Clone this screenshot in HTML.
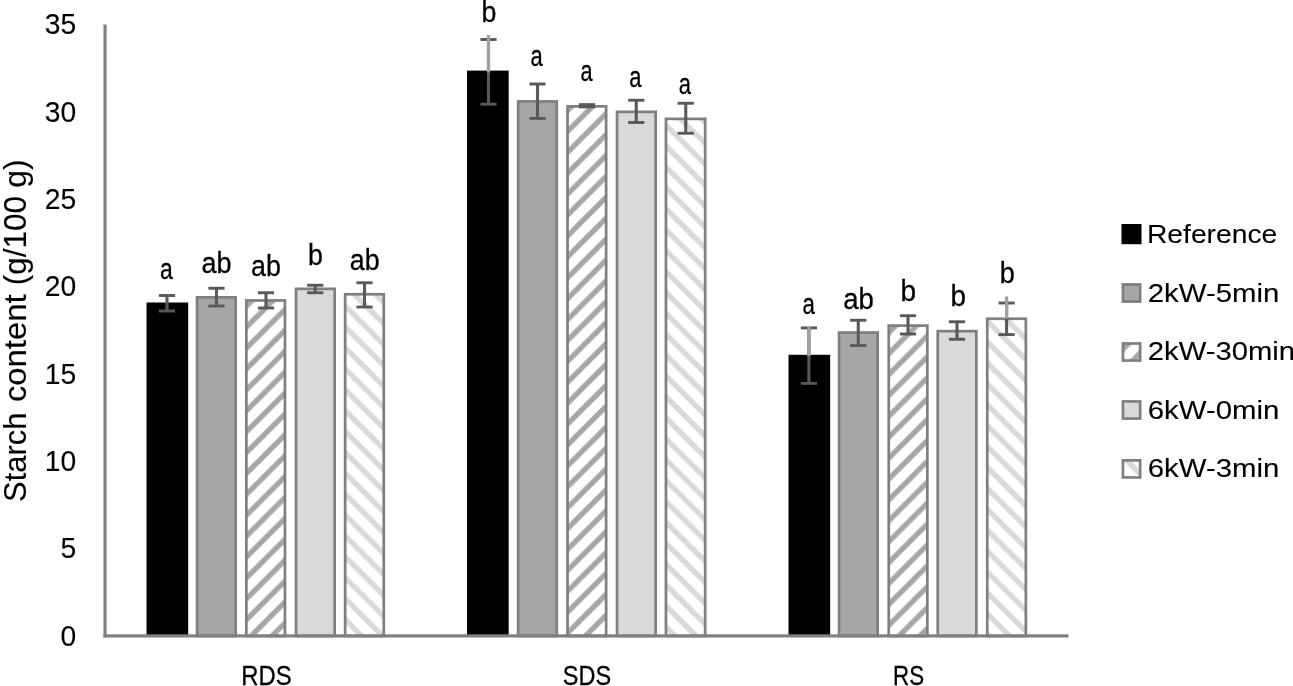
<!DOCTYPE html>
<html><head><meta charset="utf-8"><title>Starch content chart</title>
<style>
html,body{margin:0;padding:0;background:#fff;}
body{width:1293px;height:686px;overflow:hidden;}
svg{display:block;}
svg text{font-family:"Liberation Sans",sans-serif;fill:#000;stroke:#000;stroke-width:0.3px;}
svg text.l,svg text.y,svg text.t{stroke-width:0.1px;}
svg text.c,svg text.s{stroke-width:0.3px;}
</style></head><body>
<svg width="1293" height="686" viewBox="0 0 1293 686">
<defs>
<pattern id="h1" patternUnits="userSpaceOnUse" width="20.9" height="20.9">
<rect width="20.9" height="20.9" fill="#fff"/>
<path d="M-30 -2.50L-2.50 -30M-30 18.40L18.40 -30M-30 39.30L39.30 -30M-30 60.20L60.20 -30M-30 81.10L81.10 -30M-30 102.00L102.00 -30" stroke="#a6a6a6" stroke-width="5.3" fill="none"/>
</pattern>
<pattern id="h2" patternUnits="userSpaceOnUse" width="20.9" height="20.9">
<rect width="20.9" height="20.9" fill="#fff"/>
<path d="M-30 -90.10L60 -0.10M-30 -69.20L60 20.80M-30 -48.30L60 41.70M-30 -27.40L60 62.60M-30 -6.50L60 83.50M-30 14.40L60 104.40" stroke="#d9d9d9" stroke-width="5.3" fill="none"/>
</pattern>
</defs>
<rect width="1293" height="686" fill="#fff"/>
<rect x="146.55" y="302.50" width="41.65" height="333.50" fill="#000"/>
<rect x="197.05" y="297.35" width="38.60" height="338.65" fill="#a6a6a6" stroke="#7f7f7f" stroke-width="2.7"/>
<rect x="246.35" y="300.45" width="38.60" height="335.55" fill="url(#h1)" stroke="#7f7f7f" stroke-width="2.7"/>
<rect x="296.05" y="288.85" width="38.60" height="347.15" fill="#d9d9d9" stroke="#7f7f7f" stroke-width="2.7"/>
<rect x="345.15" y="294.25" width="38.60" height="341.75" fill="url(#h2)" stroke="#7f7f7f" stroke-width="2.7"/>
<rect x="467.00" y="70.60" width="41.65" height="565.40" fill="#000"/>
<rect x="518.15" y="101.45" width="38.60" height="534.55" fill="#a6a6a6" stroke="#7f7f7f" stroke-width="2.7"/>
<rect x="567.55" y="106.35" width="38.60" height="529.65" fill="url(#h1)" stroke="#7f7f7f" stroke-width="2.7"/>
<rect x="617.05" y="111.85" width="38.60" height="524.15" fill="#d9d9d9" stroke="#7f7f7f" stroke-width="2.7"/>
<rect x="665.95" y="118.85" width="39.20" height="517.15" fill="url(#h2)" stroke="#7f7f7f" stroke-width="2.7"/>
<rect x="788.50" y="354.80" width="41.65" height="281.20" fill="#000"/>
<rect x="839.05" y="332.55" width="38.60" height="303.45" fill="#a6a6a6" stroke="#7f7f7f" stroke-width="2.7"/>
<rect x="888.75" y="325.60" width="38.60" height="310.40" fill="url(#h1)" stroke="#7f7f7f" stroke-width="2.7"/>
<rect x="937.75" y="331.15" width="38.60" height="304.85" fill="#d9d9d9" stroke="#7f7f7f" stroke-width="2.7"/>
<rect x="987.25" y="318.75" width="38.60" height="317.25" fill="url(#h2)" stroke="#7f7f7f" stroke-width="2.7"/>
<rect x="103.45" y="24.5" width="3.15" height="613.00" fill="#808080"/>
<rect x="103.45" y="634.3" width="965.05" height="3.2" fill="#808080"/>
<path d="M167.00 295.50V311.00" stroke="#595959" stroke-width="3.1" fill="none"/>
<path d="M158.90 295.50H175.10" stroke="#595959" stroke-width="2.9" fill="none"/>
<path d="M158.90 311.00H175.10" stroke="#595959" stroke-width="2.9" fill="none"/>
<path d="M216.50 288.25V306.00" stroke="#595959" stroke-width="3.1" fill="none"/>
<path d="M208.40 288.25H224.60" stroke="#595959" stroke-width="2.9" fill="none"/>
<path d="M208.40 306.00H224.60" stroke="#595959" stroke-width="2.9" fill="none"/>
<path d="M266.00 292.75V308.00" stroke="#595959" stroke-width="3.1" fill="none"/>
<path d="M257.90 292.75H274.10" stroke="#595959" stroke-width="2.9" fill="none"/>
<path d="M257.90 308.00H274.10" stroke="#595959" stroke-width="2.9" fill="none"/>
<path d="M315.25 285.25V292.75" stroke="#595959" stroke-width="3.1" fill="none"/>
<path d="M307.15 285.25H323.35" stroke="#595959" stroke-width="2.9" fill="none"/>
<path d="M307.15 292.75H323.35" stroke="#595959" stroke-width="2.9" fill="none"/>
<path d="M364.50 282.75V307.00" stroke="#595959" stroke-width="3.1" fill="none"/>
<path d="M356.40 282.75H372.60" stroke="#595959" stroke-width="2.9" fill="none"/>
<path d="M356.40 307.00H372.60" stroke="#595959" stroke-width="2.9" fill="none"/>
<path d="M537.50 84.00V118.40" stroke="#595959" stroke-width="3.1" fill="none"/>
<path d="M529.40 84.00H545.60" stroke="#595959" stroke-width="2.9" fill="none"/>
<path d="M529.40 118.40H545.60" stroke="#595959" stroke-width="2.9" fill="none"/>
<path d="M636.25 100.25V122.50" stroke="#595959" stroke-width="3.1" fill="none"/>
<path d="M628.15 100.25H644.35" stroke="#595959" stroke-width="2.9" fill="none"/>
<path d="M628.15 122.50H644.35" stroke="#595959" stroke-width="2.9" fill="none"/>
<path d="M685.75 103.25V133.25" stroke="#595959" stroke-width="3.1" fill="none"/>
<path d="M677.65 103.25H693.85" stroke="#595959" stroke-width="2.9" fill="none"/>
<path d="M677.65 133.25H693.85" stroke="#595959" stroke-width="2.9" fill="none"/>
<path d="M858.25 320.25V345.50" stroke="#595959" stroke-width="3.1" fill="none"/>
<path d="M850.15 320.25H866.35" stroke="#595959" stroke-width="2.9" fill="none"/>
<path d="M850.15 345.50H866.35" stroke="#595959" stroke-width="2.9" fill="none"/>
<path d="M908.00 315.75V334.00" stroke="#595959" stroke-width="3.1" fill="none"/>
<path d="M899.90 315.75H916.10" stroke="#595959" stroke-width="2.9" fill="none"/>
<path d="M899.90 334.00H916.10" stroke="#595959" stroke-width="2.9" fill="none"/>
<path d="M957.00 321.75V339.25" stroke="#595959" stroke-width="3.1" fill="none"/>
<path d="M948.90 321.75H965.10" stroke="#595959" stroke-width="2.9" fill="none"/>
<path d="M948.90 339.25H965.10" stroke="#595959" stroke-width="2.9" fill="none"/>
<path d="M587.00 104.60V106.90" stroke="#595959" stroke-width="3.1" fill="none"/>
<path d="M578.90 104.60H595.10" stroke="#595959" stroke-width="2.9" fill="none"/>
<path d="M578.90 106.90H595.10" stroke="#595959" stroke-width="2.9" fill="none"/>
<path d="M488.50 39.50V104.20" stroke="#595959" stroke-width="3.1" fill="none"/>
<path d="M480.40 39.50H496.60" stroke="#595959" stroke-width="2.9" fill="none"/>
<path d="M480.40 104.20H496.60" stroke="#595959" stroke-width="2.9" fill="none"/>
<path d="M488.50 34.90V72.40" stroke="#a0a0a0" stroke-width="3.2" fill="none"/>
<path d="M808.90 327.90V383.40" stroke="#595959" stroke-width="3.1" fill="none"/>
<path d="M800.80 327.90H817.00" stroke="#595959" stroke-width="2.9" fill="none"/>
<path d="M800.80 383.40H817.00" stroke="#595959" stroke-width="2.9" fill="none"/>
<path d="M808.90 326.50V356.00" stroke="#a0a0a0" stroke-width="3.2" fill="none"/>
<path d="M1006.60 303.00V334.60" stroke="#595959" stroke-width="3.1" fill="none"/>
<path d="M998.50 303.00H1014.70" stroke="#595959" stroke-width="2.9" fill="none"/>
<path d="M998.50 334.60H1014.70" stroke="#595959" stroke-width="2.9" fill="none"/>
<path d="M1006.60 296.40V318.60" stroke="#a0a0a0" stroke-width="3.2" fill="none"/>
<text class="t" transform="translate(60.46,645.63) scale(0.9888,1)" font-size="28.6">0</text>
<text class="t" transform="translate(60.54,558.30) scale(0.9888,1)" font-size="28.6">5</text>
<text class="t" transform="translate(44.77,470.97) scale(0.9888,1)" font-size="28.6">10</text>
<text class="t" transform="translate(44.84,383.65) scale(0.9888,1)" font-size="28.6">15</text>
<text class="t" transform="translate(44.77,296.32) scale(0.9888,1)" font-size="28.6">20</text>
<text class="t" transform="translate(44.84,208.99) scale(0.9888,1)" font-size="28.6">25</text>
<text class="t" transform="translate(44.77,121.66) scale(0.9888,1)" font-size="28.6">30</text>
<text class="t" transform="translate(44.84,34.33) scale(0.9888,1)" font-size="28.6">35</text>
<text class="c" transform="translate(241.23,684.70) scale(0.8837,1)" font-size="27" fill="#000">RDS</text>
<text class="c" transform="translate(562.84,684.70) scale(0.8689,1)" font-size="27" fill="#000">SDS</text>
<text class="c" transform="translate(893.06,684.70) scale(0.8260,1)" font-size="27" fill="#000">RS</text>
<text class="y" transform="translate(26.0,0) rotate(-90)" font-size="31"><tspan x="-501.89" textLength="89.20" lengthAdjust="spacingAndGlyphs">Starch</tspan> <tspan x="-402.09" textLength="107.65" lengthAdjust="spacingAndGlyphs">content</tspan> <tspan x="-285.16" textLength="89.06" lengthAdjust="spacingAndGlyphs">(g/100</tspan> <tspan x="-187.65" textLength="28.29" lengthAdjust="spacingAndGlyphs">g)</tspan></text>
<text class="l" transform="translate(1146.92,242.50) scale(1.0587,1)" font-size="26.7" fill="#000">Reference</text>
<rect x="1121.5" y="224.0" width="20" height="20.2" fill="#000"/>
<text class="l" transform="translate(1147.78,301.50) scale(1.1007,1)" font-size="26.7" fill="#000">2kW-5min</text>
<rect x="1122.95" y="284.45" width="17.20" height="17.10" fill="#a6a6a6" stroke="#7f7f7f" stroke-width="2.7"/>
<text class="l" transform="translate(1147.79,360.00) scale(1.0953,1)" font-size="26.7" fill="#000">2kW-30min</text>
<rect x="1122.95" y="343.45" width="17.20" height="17.10" fill="url(#h1)" stroke="#7f7f7f" stroke-width="2.7"/>
<text class="l" transform="translate(1147.78,418.50) scale(1.1007,1)" font-size="26.7" fill="#000">6kW-0min</text>
<rect x="1122.95" y="401.45" width="17.20" height="17.10" fill="#d9d9d9" stroke="#7f7f7f" stroke-width="2.7"/>
<text class="l" transform="translate(1147.78,477.30) scale(1.1007,1)" font-size="26.7" fill="#000">6kW-3min</text>
<rect x="1122.95" y="460.35" width="17.20" height="17.10" fill="url(#h2)" stroke="#7f7f7f" stroke-width="2.7"/>
<text class="s" transform="translate(160.03,278.85) scale(0.7988,1)" font-size="28.7" fill="#000">a</text>
<text class="s" transform="translate(201.60,273.35) scale(0.9410,1)" font-size="28.7" fill="#000">ab</text>
<text class="s" transform="translate(251.11,276.35) scale(0.9325,1)" font-size="28.7" fill="#000">ab</text>
<text class="s" transform="translate(308.02,264.60) scale(0.9292,1)" font-size="28.7" fill="#000">b</text>
<text class="s" transform="translate(349.86,270.10) scale(0.9325,1)" font-size="28.7" fill="#000">ab</text>
<text class="s" transform="translate(481.42,21.60) scale(0.9292,1)" font-size="28.7" fill="#000">b</text>
<text class="s" transform="translate(530.57,65.70) scale(0.7649,1)" font-size="28.7" fill="#000">a</text>
<text class="s" transform="translate(580.58,81.35) scale(0.7581,1)" font-size="28.7" fill="#000">a</text>
<text class="s" transform="translate(629.32,86.85) scale(0.7649,1)" font-size="28.7" fill="#000">a</text>
<text class="s" transform="translate(678.82,93.85) scale(0.7649,1)" font-size="28.7" fill="#000">a</text>
<text class="s" transform="translate(802.50,314.40) scale(0.7750,1)" font-size="28.7" fill="#000">a</text>
<text class="s" transform="translate(843.28,308.50) scale(0.9597,1)" font-size="28.7" fill="#000">ab</text>
<text class="s" transform="translate(900.43,301.10) scale(0.9756,1)" font-size="28.7" fill="#000">b</text>
<text class="s" transform="translate(950.44,305.85) scale(0.9679,1)" font-size="28.7" fill="#000">b</text>
<text class="s" transform="translate(999.75,282.60) scale(0.9408,1)" font-size="28.7" fill="#000">b</text>
</svg>
</body></html>
